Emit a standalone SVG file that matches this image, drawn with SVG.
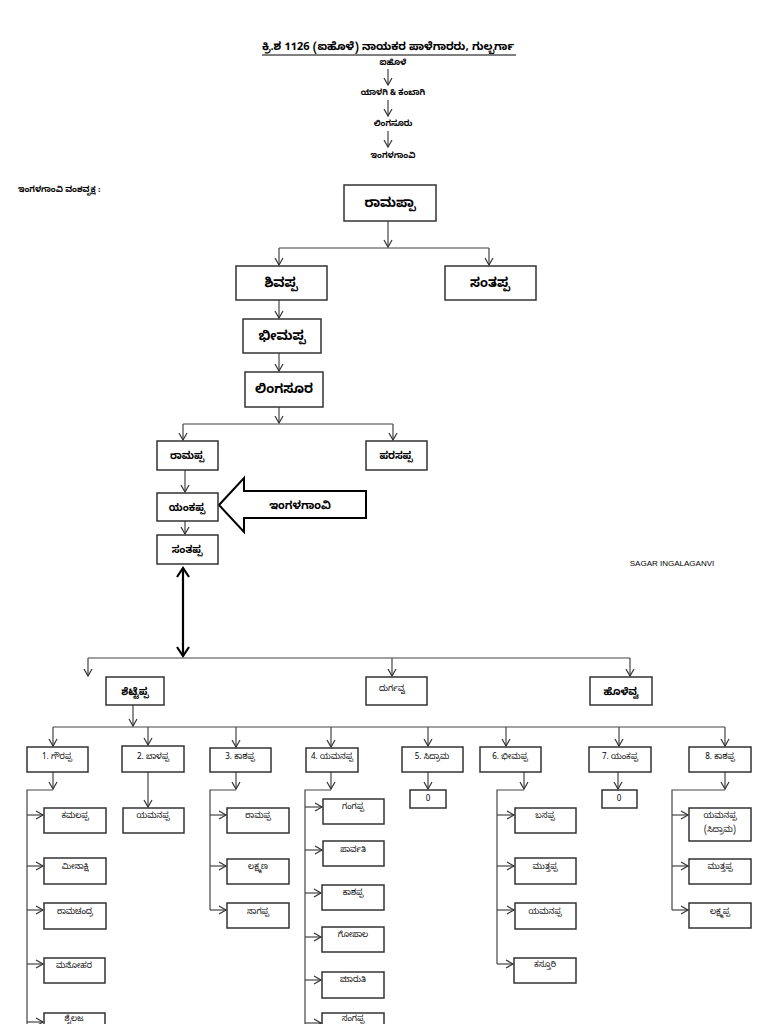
<svg xmlns="http://www.w3.org/2000/svg" width="768" height="1024" viewBox="0 0 768 1024">
<style>
text{font-family:"Noto Sans Kannada","Noto Sans","Liberation Sans",sans-serif;fill:#000;text-anchor:middle}
.b{fill:#fff;stroke:#333;stroke-width:1.5}
.c{stroke:#444;stroke-width:1.2;fill:none}
.t1{font-size:13px;font-weight:bold}
.t2{font-size:10px;font-weight:bold}
.t3{font-size:8px}
</style>
<defs>
<marker id="a" markerWidth="10" markerHeight="10" refX="8" refY="5" orient="auto" markerUnits="userSpaceOnUse"><path d="M1,1 L8,5 L1,9" fill="none" stroke="#333" stroke-width="1.2"/></marker>
<marker id="ta" markerWidth="12" markerHeight="14" refX="10" refY="7" orient="auto-start-reverse" markerUnits="userSpaceOnUse"><path d="M1,1 L10,7 L1,13" fill="none" stroke="#000" stroke-width="2.2"/></marker>
</defs>
<rect width="768" height="1024" fill="#fff"/>
<g id="title"><text x="388" y="50" style="font-size:11px;font-weight:bold">ಕ್ರಿ.ಶ 1126 (ಐಹೊಳೆ) ನಾಯಕರ ಪಾಳೆಗಾರರು, ಗುಲ್ಬರ್ಗಾ</text><line x1="262" y1="55" x2="516" y2="55" stroke="#000" stroke-width="1"/></g>
<g id="chain">
<text x="393" y="65" class="t3" font-weight="bold">ಐಹೊಳೆ</text>
<text x="393" y="95" class="t3" font-weight="bold">ಯಾಳಗಿ &amp; ಕಂಬಾಗಿ</text>
<text x="393" y="126" class="t3" font-weight="bold">ಲಿಂಗಸೂರು</text>
<text x="393" y="158" class="t3" font-weight="bold">ಇಂಗಳಗಾಂವಿ</text>
</g>
<text x="18" y="192" class="t3" font-weight="bold" style="text-anchor:start">ಇಂಗಳಗಾಂವಿ ವಂಶವೃಕ್ಷ :</text>
<text x="672" y="566" style="font-size:8px;font-family:'Liberation Sans',sans-serif">SAGAR INGALAGANVI</text>

<g id="connectors">
<path class="c" d="M388,69V85" marker-end="url(#a)"/>
<path class="c" d="M388,100V116" marker-end="url(#a)"/>
<path class="c" d="M388,131V147" marker-end="url(#a)"/>
<path class="c" d="M388,221V247"  marker-end="url(#a)"/>
<path class="c" d="M279,248H489"/>
<path class="c" d="M279,248V265" marker-end="url(#a)"/><path class="c" d="M489,248V265" marker-end="url(#a)"/>
<path class="c" d="M279,300V318" marker-end="url(#a)"/>
<path class="c" d="M279,353V371" marker-end="url(#a)"/>
<path class="c" d="M279,407V423" marker-end="url(#a)"/>
<path class="c" d="M183,424H393"/>
<path class="c" d="M183,424V440" marker-end="url(#a)"/><path class="c" d="M393,424V440" marker-end="url(#a)"/>
<path class="c" d="M185,470V492" marker-end="url(#a)"/>
<path class="c" d="M185,521V534" marker-end="url(#a)"/>
<path d="M183,568V656" stroke="#000" stroke-width="2.2" marker-start="url(#ta)" marker-end="url(#ta)"/>
<path class="c" d="M88,658H630"/>
<path class="c" d="M88,658V676" marker-end="url(#a)"/><path class="c" d="M392,658V676" marker-end="url(#a)"/><path class="c" d="M630,658V676" marker-end="url(#a)"/>
<path class="c" d="M133,705V726" marker-end="url(#a)"/>
<path class="c" d="M53,727H725"/>
<path class="c" d="M53,727V746" marker-end="url(#a)"/><path class="c" d="M148,727V745" marker-end="url(#a)"/><path class="c" d="M236,727V747" marker-end="url(#a)"/><path class="c" d="M331,727V747" marker-end="url(#a)"/><path class="c" d="M428,727V746" marker-end="url(#a)"/><path class="c" d="M506,727V746" marker-end="url(#a)"/><path class="c" d="M619,727V746" marker-end="url(#a)"/><path class="c" d="M725,727V746" marker-end="url(#a)"/>
<path class="c" d="M53,772V789" marker-end="url(#a)"/>
<path class="c" d="M53,790H27V1024"/>
<path class="c" d="M27,815H43" marker-end="url(#a)"/><path class="c" d="M27,866H43" marker-end="url(#a)"/><path class="c" d="M27,910H43" marker-end="url(#a)"/><path class="c" d="M27,964H43" marker-end="url(#a)"/><path class="c" d="M27,1022H43" marker-end="url(#a)"/>
<path class="c" d="M148,772V807" marker-end="url(#a)"/>
<path class="c" d="M236,772V789" marker-end="url(#a)"/>
<path class="c" d="M236,790H210V910"/>
<path class="c" d="M210,815H226" marker-end="url(#a)"/><path class="c" d="M210,866H226" marker-end="url(#a)"/><path class="c" d="M210,910H226" marker-end="url(#a)"/>
<path class="c" d="M331,772V789" marker-end="url(#a)"/>
<path class="c" d="M331,790H305V1024"/>
<path class="c" d="M305,807H322" marker-end="url(#a)"/><path class="c" d="M305,850H322" marker-end="url(#a)"/><path class="c" d="M305,893H321" marker-end="url(#a)"/><path class="c" d="M305,937H321" marker-end="url(#a)"/><path class="c" d="M305,980H321" marker-end="url(#a)"/><path class="c" d="M305,1023H321" marker-end="url(#a)"/>
<path class="c" d="M428,772V789" marker-end="url(#a)"/>
<path class="c" d="M524,772V789" marker-end="url(#a)"/>
<path class="c" d="M524,790H497V964"/>
<path class="c" d="M497,815H514" marker-end="url(#a)"/><path class="c" d="M497,866H514" marker-end="url(#a)"/><path class="c" d="M497,910H514" marker-end="url(#a)"/><path class="c" d="M497,964H513" marker-end="url(#a)"/>
<path class="c" d="M618,772V789" marker-end="url(#a)"/>
<path class="c" d="M725,772V789" marker-end="url(#a)"/>
<path class="c" d="M725,790H672V910"/>
<path class="c" d="M672,815H688" marker-end="url(#a)"/><path class="c" d="M672,866H688" marker-end="url(#a)"/><path class="c" d="M672,910H688" marker-end="url(#a)"/>
</g>

<g id="bigarrow"><polygon points="219,505 244,478 244,491 366,491 366,518 244,518 244,532" fill="#fff" stroke="#000" stroke-width="2"/><text x="300" y="509" class="t2" style="font-size:11px">ಇಂಗಳಗಾಂವಿ</text></g>

<g id="n-rampa"><rect class="b" x="344" y="185" width="92" height="36"/><text x="390" y="207" class="t1">ರಾಮಪ್ಪಾ</text></g>
<g id="n-shivappa"><rect class="b" x="236" y="266" width="91" height="34"/><text x="281" y="287" class="t1">ಶಿವಪ್ಪ</text></g>
<g id="n-santappa1"><rect class="b" x="445" y="266" width="91" height="34"/><text x="490" y="287" class="t1">ಸಂತಪ್ಪ</text></g>
<g id="n-bhimappa"><rect class="b" x="243" y="319" width="78" height="34"/><text x="282" y="340" class="t1">ಭೀಮಪ್ಪ</text></g>
<g id="n-lingasura"><rect class="b" x="245" y="372" width="78" height="35"/><text x="284" y="393" class="t1">ಲಿಂಗಸೂರ</text></g>
<g id="n-ramappa"><rect class="b" x="157" y="441" width="61" height="29"/><text x="187" y="459" class="t2">ರಾಮಪ್ಪ</text></g>
<g id="n-parasappa"><rect class="b" x="366" y="441" width="61" height="29"/><text x="396" y="459" class="t2">ಪರಸಪ್ಪ</text></g>
<g id="n-yankappa"><rect class="b" x="157" y="493" width="61" height="28"/><text x="187" y="511" class="t2">ಯಂಕಪ್ಪ</text></g>
<g id="n-santappa2"><rect class="b" x="157" y="535" width="61" height="29"/><text x="187" y="553" class="t2">ಸಂತಪ್ಪ</text></g>
<g id="n-shettappa"><rect class="b" x="106" y="677" width="58" height="28"/><text x="135" y="695" class="t2">ಶೆಟ್ಟೆಪ್ಪ</text></g>
<g id="n-durgavva"><rect class="b" x="366" y="677" width="61" height="28"/><text x="392" y="691" class="t3">ದುರ್ಗವ್ವ</text></g>
<g id="n-holevva"><rect class="b" x="590" y="677" width="62" height="28"/><text x="621" y="695" class="t2">ಹೊಳೆವ್ವ</text></g>

<g id="g1"><rect class="b" x="27" y="747" width="61" height="25"/><text x="57" y="759" class="t3">1. ಗೌರಪ್ಪ</text></g>
<g id="g2"><rect class="b" x="122" y="746" width="62" height="26"/><text x="153" y="759" class="t3">2. ಬಾಳಪ್ಪ</text></g>
<g id="g3"><rect class="b" x="210" y="748" width="61" height="24"/><text x="240" y="759" class="t3">3. ಕಾಶಪ್ಪ</text></g>
<g id="g4"><rect class="b" x="306" y="748" width="52" height="24"/><text x="332" y="759" class="t3">4. ಯಮನಪ್ಪ</text></g>
<g id="g5"><rect class="b" x="402" y="747" width="61" height="25"/><text x="432" y="759" class="t3">5. ಸಿದ್ರಾಮ</text></g>
<g id="g6"><rect class="b" x="480" y="747" width="61" height="25"/><text x="510" y="759" class="t3">6. ಭೀಮಪ್ಪ</text></g>
<g id="g7"><rect class="b" x="589" y="747" width="62" height="25"/><text x="620" y="759" class="t3">7. ಯಂಕಪ್ಪ</text></g>
<g id="g8"><rect class="b" x="689" y="747" width="62" height="25"/><text x="720" y="759" class="t3">8. ಕಾಶಪ್ಪ</text></g>

<g id="c1a"><rect class="b" x="44" y="808" width="62" height="25"/><text x="75" y="818" class="t3">ಕಮಲಪ್ಪ</text></g>
<g id="c1b"><rect class="b" x="44" y="858" width="62" height="26"/><text x="75" y="869" class="t3">ಮೀನಾಕ್ಷಿ</text></g>
<g id="c1c"><rect class="b" x="44" y="903" width="62" height="26"/><text x="75" y="914" class="t3">ರಾಮಚಂದ್ರ</text></g>
<g id="c1d"><rect class="b" x="44" y="958" width="61" height="25"/><text x="74" y="968" class="t3">ಮನೋಹರ</text></g>
<g id="c1e"><rect class="b" x="44" y="1013" width="61" height="25"/><text x="74" y="1021" class="t3">ಶೈಲಜ</text></g>

<g id="c2a"><rect class="b" x="123" y="808" width="61" height="25"/><text x="153" y="818" class="t3">ಯಮನಪ್ಪ</text></g>

<g id="c3a"><rect class="b" x="227" y="808" width="62" height="25"/><text x="258" y="818" class="t3">ರಾಮಪ್ಪ</text></g>
<g id="c3b"><rect class="b" x="227" y="859" width="62" height="25"/><text x="258" y="869" class="t3">ಲಕ್ಷ್ಮಣ</text></g>
<g id="c3c"><rect class="b" x="227" y="903" width="62" height="25"/><text x="258" y="914" class="t3">ನಾಗಪ್ಪ</text></g>

<g id="c4a"><rect class="b" x="323" y="799" width="61" height="25"/><text x="353" y="809" class="t3">ಗಂಗಪ್ಪ</text></g>
<g id="c4b"><rect class="b" x="323" y="841" width="61" height="25"/><text x="353" y="852" class="t3">ಪಾರ್ವತಿ</text></g>
<g id="c4c"><rect class="b" x="322" y="885" width="62" height="25"/><text x="353" y="895" class="t3">ಕಾಶಪ್ಪ</text></g>
<g id="c4d"><rect class="b" x="322" y="927" width="62" height="25"/><text x="353" y="937" class="t3">ಗೋಪಾಲ</text></g>
<g id="c4e"><rect class="b" x="322" y="972" width="62" height="26"/><text x="353" y="982" class="t3">ಮಾರುತಿ</text></g>
<g id="c4f"><rect class="b" x="322" y="1013" width="62" height="25"/><text x="353" y="1021" class="t3">ಸಂಗಪ್ಪ</text></g>

<g id="c5a"><rect class="b" x="410" y="790" width="36" height="18"/><text x="428" y="801" class="t3">0</text></g>

<g id="c6a"><rect class="b" x="515" y="808" width="61" height="25"/><text x="545" y="818" class="t3">ಬಸಪ್ಪ</text></g>
<g id="c6b"><rect class="b" x="515" y="858" width="61" height="26"/><text x="545" y="869" class="t3">ಮುತ್ತಪ್ಪ</text></g>
<g id="c6c"><rect class="b" x="515" y="903" width="61" height="26"/><text x="545" y="914" class="t3">ಯಮನಪ್ಪ</text></g>
<g id="c6d"><rect class="b" x="514" y="958" width="62" height="25"/><text x="545" y="967" class="t3">ಕಸ್ತೂರಿ</text></g>

<g id="c7a"><rect class="b" x="602" y="790" width="35" height="18"/><text x="619" y="801" class="t3">0</text></g>

<g id="c8a"><rect class="b" x="689" y="808" width="62" height="33"/><text x="720" y="818" class="t3">ಯಮನಪ್ಪ</text><text x="720" y="832" class="t3">(ಸಿದ್ರಾಮ)</text></g>
<g id="c8b"><rect class="b" x="689" y="859" width="62" height="25"/><text x="720" y="869" class="t3">ಮುತ್ತಪ್ಪ</text></g>
<g id="c8c"><rect class="b" x="689" y="903" width="62" height="25"/><text x="720" y="914" class="t3">ಲಕ್ಷ್ಮಪ್ಪ</text></g>
</svg>
